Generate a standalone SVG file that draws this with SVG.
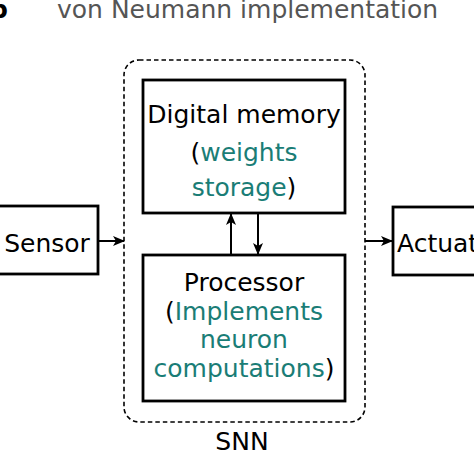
<svg xmlns="http://www.w3.org/2000/svg" width="474" height="474" viewBox="0 0 474 474">
<style>
text{font-family:"DejaVu Sans",sans-serif;font-size:25px;fill:#000}
.box{fill:#fff;stroke:#000;stroke-width:2.8}
.t{fill:#1a7d76}
.ln{stroke:#000;stroke-width:2;fill:none}
</style>
<defs>
<marker id="ah" markerWidth="12" markerHeight="12" refX="11" refY="6" orient="auto" markerUnits="userSpaceOnUse">
<path d="M0,1 L12,6 L0,11 L3,6 Z" fill="#000"/>
</marker>
</defs>
<rect width="474" height="474" fill="#fff"/>
<g id="title">
<text x="-10" y="18" style="font-weight:bold">b</text>
<text x="57" y="18" style="fill:#555">von Neumann implementation</text>
</g>
<g id="snn">
<rect x="124" y="60" width="241" height="362" rx="15" fill="none" stroke="#000" stroke-width="1.6" stroke-dasharray="4.5,3"/>
<text x="242" y="450" text-anchor="middle">SNN</text>
</g>
<g id="sensor">
<rect class="box" x="-10" y="206" width="108" height="68"/>
<text x="47" y="252" text-anchor="middle">Sensor</text>
</g>
<g id="actuator">
<rect class="box" x="393" y="207" width="100" height="68"/>
<text x="397" y="252">Actuator</text>
</g>
<g id="memory">
<rect class="box" x="143" y="80" width="202" height="133"/>
<text x="244" y="123" text-anchor="middle">Digital memory</text>
<text x="244" y="161" text-anchor="middle">(<tspan class="t">weights</tspan></text>
<text x="244" y="196" text-anchor="middle"><tspan class="t">storage</tspan>)</text>
</g>
<g id="processor">
<rect class="box" x="143" y="255" width="202" height="146"/>
<text x="244" y="291" text-anchor="middle">Processor</text>
<text x="244" y="320" text-anchor="middle">(<tspan class="t">Implements</tspan></text>
<text x="244" y="348" text-anchor="middle" class="t">neuron</text>
<text x="244" y="377" text-anchor="middle"><tspan class="t">computations</tspan>)</text>
</g>
<g id="connectors">
<line class="ln" x1="99" y1="241" x2="124" y2="241" marker-end="url(#ah)"/>
<line class="ln" x1="365" y1="241" x2="392" y2="241" marker-end="url(#ah)"/>
<line class="ln" x1="231" y1="254" x2="231" y2="214" marker-end="url(#ah)"/>
<line class="ln" x1="258" y1="214" x2="258" y2="254" marker-end="url(#ah)"/>
</g>
</svg>
